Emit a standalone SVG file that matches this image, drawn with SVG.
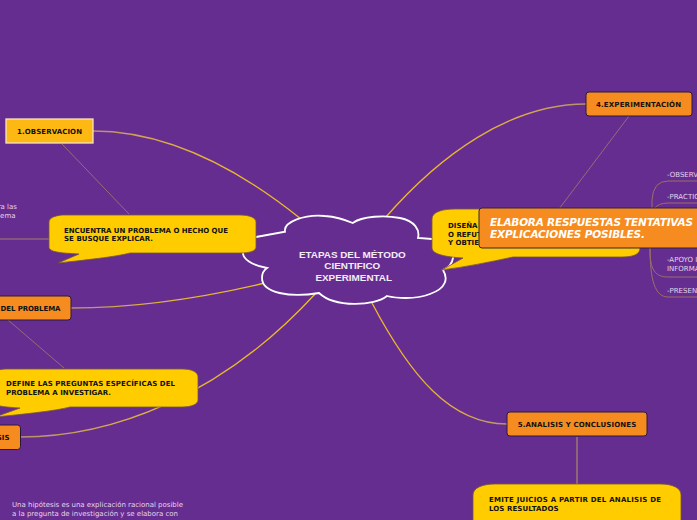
<svg xmlns="http://www.w3.org/2000/svg" width="697" height="520" viewBox="0 0 697 520">
<defs>
<linearGradient id="gl" x1="0" y1="0" x2="1" y2="0"><stop offset="0" stop-color="#b5906f"/><stop offset=".35" stop-color="#dcae45"/><stop offset="1" stop-color="#f0bd1e"/></linearGradient>
<linearGradient id="gr" x1="1" y1="0" x2="0" y2="0"><stop offset="0" stop-color="#b5906f"/><stop offset=".35" stop-color="#dcae45"/><stop offset="1" stop-color="#f0bd1e"/></linearGradient>
</defs>
<style>
.cl{fill:none;stroke:url(#gl);stroke-width:1.3}
.cr{fill:none;stroke:url(#gr);stroke-width:1.3}
.t{fill:none;stroke:#a07c70;stroke-width:.8}
.b{fill:none;stroke:#987068;stroke-width:1}
.o{fill:#f68b1f;stroke:#2a1a3a;stroke-width:1}
.y{fill:#ffcc00;stroke:#75583a;stroke-width:.8}
text{font-family:"DejaVu Sans",sans-serif}
.k{font-size:7px;font-weight:700;fill:#111}
.w{font-size:7px;fill:#e4d4ea}
.m{font-family:"Liberation Sans",sans-serif;font-size:9.9px;font-weight:700;fill:#f4ecf7;text-anchor:middle}
.e{font-size:10.5px;font-weight:700;font-style:italic;fill:#fff}
</style>
<rect width="697" height="520" fill="#662d91"/>
<g id="connectors">
<path class="cl" d="M93 131C170 131 240 170 301 219"/>
<path class="cl" d="M71 308C140 308 210 296 265 283"/>
<path class="cl" d="M20 437C110 437 220 398 316 293"/>
<path class="cr" d="M586 104C510 104 440 155 385 218"/>
<path class="cr" d="M507 424C450 424 410 375 372 303"/>
<path class="t" d="M62 144L129 214"/>
<path class="t" d="M8 320L64 368"/>
<path class="t" d="M629 116L559 209"/>
<path class="b" style="stroke-width:2;stroke:#8f6478" d="M577 437V484"/>
<path class="b" style="stroke-width:1.4;stroke:#8f6478" d="M0 239H49"/>
<path class="b" d="M697 181H668Q653 181 652 200V212"/>
<path class="b" d="M697 203H668Q658 203 654 209"/>
<path class="b" d="M650 248C650 265 652 277 668 277H697"/>
<path class="b" d="M650 248C650 280 655 297 668 297H697"/>
</g>
<g id="center">
<path d="M256 237L285 231.7C283 222 305 214 325 216C338 217 348 221 352.7 223C362 216 385 215 400 218C415 221 420 230 418 238L432 239C445 240 455 250 453 258C452 265 448 268 443 270C448 278 447 288 430 294C415 300 395 298 387 296C375 306 335 308 319 293C290 298 262 293 262 278C262 274 264 270 267 268C250 265 243 258 243 253C240 245 250 238 256 237Z" fill="#662d91" stroke="#fff" stroke-width="1.8"/>
<text class="m" x="352.3" y="258">ETAPAS DEL MÉTODO</text>
<text class="m" x="352.3" y="269">CIENTIFICO</text>
<text class="m" x="353.7" y="281">EXPERIMENTAL</text>
</g>
<g id="n1">
<rect x="6" y="119" width="87" height="24" fill="#fdb813" stroke="#f8e3c0" stroke-width="1.3"/>
<text class="k" x="17" y="134" textLength="65">1.OBSERVACION</text>
</g>
<g id="n1a">
<path class="y" d="M49 222C49 217 58 215 64 215H240C250 215 256 218 256 222V247C256 251 250 253 240 253H130C115 257 85 260 58 263L79 254C60 253 49 252 49 247Z"/>
<text class="k" x="64" y="233" textLength="164">ENCUENTRA UN PROBLEMA O HECHO QUE</text>
<text class="k" x="64" y="241" textLength="89">SE BUSQUE EXPLICAR.</text>
</g>
<g id="n1b">
<text class="w" x="17" y="209" text-anchor="end">ra las</text>
<text class="w" x="15.5" y="218" text-anchor="end">ema</text>
</g>
<g id="n2">
<rect x="-20" y="296" width="91" height="24" rx="3" class="o"/>
<text class="k" x="0.5" y="311" textLength="60">DEL PROBLEMA</text>
</g>
<g id="n2a">
<path class="y" d="M-10 377C-8 371 0 369 6 369H182C192 369 198 372 198 377V400C198 404 192 407 182 407H70C55 411 25 414 -5 417L20 408C5 407 -10 406 -10 400Z"/>
<text class="k" x="6" y="386" textLength="169">DEFINE LAS PREGUNTAS ESPECÍFICAS DEL</text>
<text class="k" x="6" y="395" textLength="105">PROBLEMA A INVESTIGAR.</text>
</g>
<g id="n3">
<rect x="-20" y="425" width="40.5" height="24.5" rx="3" class="o"/>
<text class="k" x="9.5" y="440" text-anchor="end">SIS</text>
</g>
<g id="n3a">
<text class="w" x="12" y="507" textLength="171">Una hipótesis es una explicación racional posible</text>
<text class="w" x="12" y="516" textLength="166">a la pregunta de investigación y se elabora con</text>
</g>
<g id="n4">
<rect x="586" y="92" width="106" height="24" rx="3" class="o"/>
<text class="k" x="596" y="107" textLength="85">4.EXPERIMENTACIÓN</text>
</g>
<g id="n4a">
<path class="y" d="M432 219C432 212 442 209 455 209H622C634 209 640 213 640 219V248C640 254 634 257 622 257H513C490 262 465 267 441.7 270L463 258C445 257 432 254 432 248Z"/>
<text class="k" x="448" y="228">DISEÑA</text>
<text class="k" x="448" y="236.5">O REFUT</text>
<text class="k" x="448" y="245">Y OBTIE</text>
</g>
<g id="n4b">
<text class="w" x="667" y="177">-OBSERV</text>
<text class="w" x="667" y="199">-PRACTIC</text>
<text class="w" x="667" y="262">-APOYO I</text>
<text class="w" x="667" y="271">INFORMA</text>
<text class="w" x="667" y="293">-PRESEN</text>
</g>
<g id="n3b">
<rect x="479" y="208" width="230" height="40" rx="3" fill="#f68b1f" stroke="#33223a" stroke-width="1"/>
<text class="e" x="490" y="226" textLength="203">ELABORA RESPUESTAS TENTATIVAS</text>
<text class="e" x="490" y="238" textLength="155">EXPLICACIONES POSIBLES.</text>
</g>
<g id="n5">
<rect x="507" y="412" width="140" height="24" rx="3" class="o"/>
<text class="k" x="517.7" y="427" textLength="118.5">5.ANALISIS Y CONCLUSIONES</text>
</g>
<g id="n5a">
<path class="y" d="M473 495C473 488 482 484 495 484H660C673 484 681 488 681 495V530H473Z"/>
<text class="k" x="489" y="502" textLength="172">EMITE JUICIOS A PARTIR DEL ANALISIS DE</text>
<text class="k" x="489" y="511" textLength="69.5">LOS RESULTADOS</text>
</g>
</svg>
